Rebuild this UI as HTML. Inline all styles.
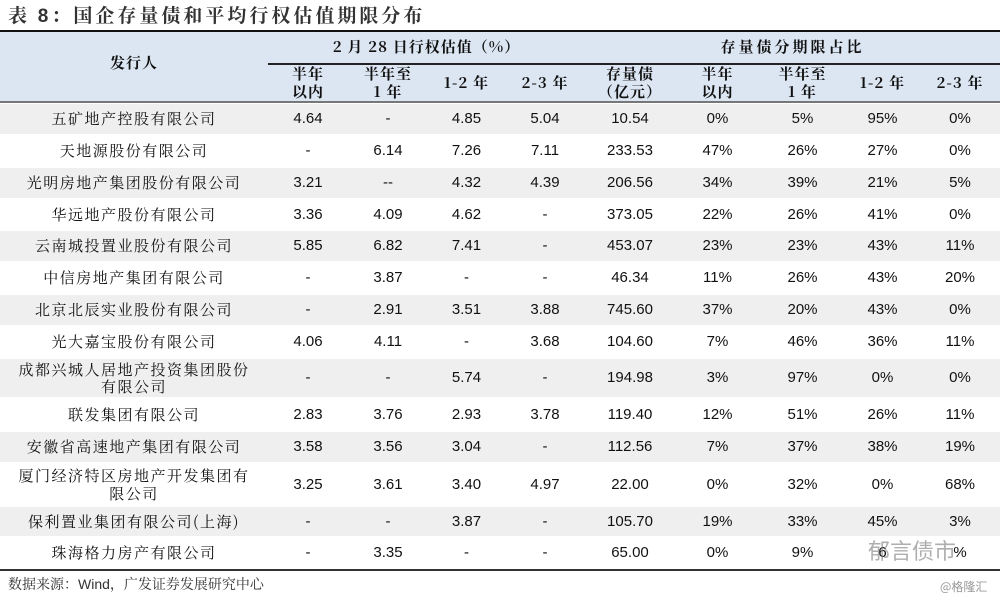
<!DOCTYPE html>
<html><head><meta charset="utf-8">
<style>
body{margin:0;background:#fff;width:1000px;height:598px;position:relative;overflow:hidden;font-family:"Liberation Sans","Noto Serif CJK SC",sans-serif;color:#111}
.a{position:absolute;box-sizing:border-box}
.t{display:flex;align-items:center;justify-content:center;text-align:center;line-height:1.15}
.k{font-family:"Noto Serif CJK SC","Noto Sans CJK SC",serif}
.h{font-weight:bold;font-size:15px;letter-spacing:1px}
.c{font-size:15px}
</style></head><body>
<div class="a k" style="left:8px;top:1px;font-size:19px;color:#333;letter-spacing:3px;font-weight:bold">表 <span style="font-family:'Liberation Sans'">8</span>：国企存量债和平均行权估值期限分布</div>
<div class="a" style="left:0;top:31px;width:1000px;height:72px;background:#dce6f2"></div>
<div class="a" style="left:0;top:30px;width:1000px;height:2px;background:#111"></div>
<div class="a" style="left:268px;top:63px;width:732px;height:1.5px;background:#222"></div>
<div class="a" style="left:0;top:101px;width:1000px;height:2px;background:#777"></div>
<div class="a t k h" style="left:0;top:31px;width:268px;height:70px;padding-bottom:6px">发行人</div>
<div class="a t k h" style="left:268px;top:31px;width:317px;height:32px">2 月 28 日行权估值（%）</div>
<div class="a t k h" style="left:585px;top:31px;width:415px;height:32px;letter-spacing:3px">存量债分期限占比</div>
<div id="hdr"></div>
<div id="body"></div>
<div class="a" style="left:0;top:569px;width:1000px;height:1.5px;background:#333"></div>
<div class="a k" style="left:8px;top:574px;font-size:14px;color:#333">数据来源：<span style="font-family:'Liberation Sans'">Wind</span>，广发证券发展研究中心</div>
<div class="a" style="left:868px;top:534px;font-size:22px;color:rgba(120,120,120,0.6);font-family:'Noto Sans CJK SC',sans-serif">郁言债市</div>
<div class="a" style="left:940px;top:578px;font-size:12px;color:#999;font-family:'Noto Sans CJK SC',sans-serif">@格隆汇</div>
<script>
const colX=[268,348,428,505,585,675,760,845,920,1000];
const subHeaders=["半年<br>以内","半年至<br>1 年","1-2 年","2-3 年","存量债<br>（亿元）","半年<br>以内","半年至<br>1 年","1-2 年","2-3 年"];
const issuers=["五矿地产控股有限公司","天地源股份有限公司","光明房地产集团股份有限公司","华远地产股份有限公司","云南城投置业股份有限公司","中信房地产集团有限公司","北京北辰实业股份有限公司","光大嘉宝股份有限公司","成都兴城人居地产投资集团股份<br>有限公司","联发集团有限公司","安徽省高速地产集团有限公司","厦门经济特区房地产开发集团有<br>限公司","保利置业集团有限公司(上海)","珠海格力房产有限公司"];
const val6m=["4.64","-","3.21","3.36","5.85","-","-","4.06","-","2.83","3.58","3.25","-","-"];
const val1y=["-","6.14","--","4.09","6.82","3.87","2.91","4.11","-","3.76","3.56","3.61","-","3.35"];
const val2y=["4.85","7.26","4.32","4.62","7.41","-","3.51","-","5.74","2.93","3.04","3.40","3.87","-"];
const val3y=["5.04","7.11","4.39","-","-","-","3.88","3.68","-","3.78","-","4.97","-","-"];
const stock=["10.54","233.53","206.56","373.05","453.07","46.34","745.60","104.60","194.98","119.40","112.56","22.00","105.70","65.00"];
const sh6m=["0%","47%","34%","22%","23%","11%","37%","7%","3%","12%","7%","0%","19%","0%"];
const sh1y=["5%","26%","39%","26%","23%","26%","20%","46%","97%","51%","37%","32%","33%","9%"];
const sh2y=["95%","27%","21%","41%","43%","43%","43%","36%","0%","26%","38%","0%","45%","6"];
const sh3y=["0%","0%","5%","0%","11%","20%","0%","11%","0%","11%","19%","68%","3%","%"];
const rowTop=[103,135,167,199,230,262,294,326,358,398,431,463,506,537,569];
const hdr=document.getElementById('hdr');
subHeaders.forEach((s,i)=>{
  const d=document.createElement('div');
  d.className='a t k h';
  d.style.cssText=`left:${colX[i]}px;top:64px;width:${colX[i+1]-colX[i]}px;height:37px`;
  d.innerHTML=s;
  
  
  hdr.appendChild(d);
});
const body=document.getElementById('body');
const cols=[val6m,val1y,val2y,val3y,stock,sh6m,sh1y,sh2y,sh3y];
issuers.forEach((name,r)=>{
  const top=rowTop[r],h=rowTop[r+1]-top;
  const bg=document.createElement('div');
  bg.className='a';
  bg.style.cssText=`left:0;top:${top+1}px;width:1000px;height:${h-2}px;background:${r%2==0?'#efefef':'#fff'}`;
  
  
  body.appendChild(bg);
  const n=document.createElement('div');
  n.className='a t k';
  n.style.cssText=`left:0;top:${top}px;width:268px;height:${h}px;font-size:15px;letter-spacing:1.5px`;
  n.innerHTML=name;
  
  
  body.appendChild(n);
  cols.forEach((arr,i)=>{
    const c=document.createElement('div');
    c.className='a t c';
    c.style.cssText=`left:${colX[i]}px;top:${top}px;width:${colX[i+1]-colX[i]}px;height:${h}px`;
    c.textContent=arr[r];
    
    
    body.appendChild(c);
  });
});
</script>
</body></html>
